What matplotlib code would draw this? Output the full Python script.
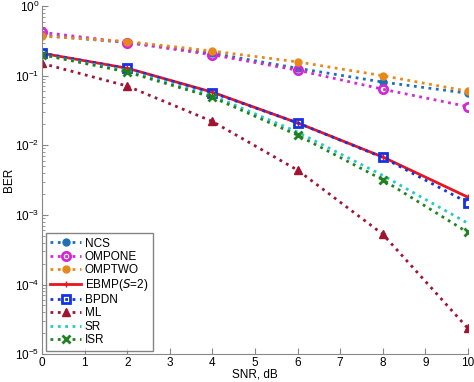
import matplotlib
matplotlib.use("Agg")
import matplotlib.pyplot as plt
import numpy as np

snr = [0, 2, 4, 6, 8, 10]
ber_ncs = [0.38, 0.30, 0.21, 0.128, 0.081, 0.056]
ber_ompone = [0.42, 0.30, 0.20, 0.12, 0.064, 0.036]
ber_omptwo = [0.37, 0.31, 0.226, 0.158, 0.10, 0.060]
ber_ebmp = [0.21, 0.128, 0.058, 0.021, 0.0068, 0.0018]
ber_bpdn = [0.21, 0.127, 0.057, 0.021, 0.0067, 0.0015]
ber_ml = [0.15, 0.071, 0.022, 0.0044, 0.00053, 2.35e-5]
ber_sr = [0.20, 0.118, 0.052, 0.0155, 0.0037, 0.00076]
ber_isr = [0.20, 0.113, 0.049, 0.014, 0.0032, 0.00056]

plt.rcParams['font.family'] = 'Liberation Sans'

fig = plt.figure(figsize=(4.74, 3.82), dpi=100)
ax = fig.add_axes([0.089, 0.073, 0.898, 0.911])

lw = 2
ax.plot(snr, ber_ncs, ':', color='#1f6fb4', lw=lw, marker='o', ms=5, label='NCS')
ax.plot(snr, ber_ompone, ':', color='#d22ad2', lw=lw, marker='o', ms=6, mfc='none', mew=2, label='OMPONE')
ax.plot(snr, ber_omptwo, ':', color='#e8881a', lw=lw, marker='o', ms=5, label='OMPTWO')
ax.plot(snr, ber_ebmp, '-', color='#e8141e', lw=lw, marker='+', ms=5, label='EBMP($S$=2)')
ax.plot(snr, ber_bpdn, ':', color='#1432e6', lw=lw, marker='s', ms=6, mfc='none', mew=2, label='BPDN')
ax.plot(snr, ber_ml, ':', color='#a01432', lw=lw, marker='^', ms=6, label='ML')
ax.plot(snr, ber_sr, ':', color='#28c8c8', lw=lw, label='SR')
ax.plot(snr, ber_isr, ':', color='#1e821e', lw=lw, marker='x', ms=6, mew=2, label='ISR')

ax.set_yscale('log')
ax.set_xlim(0, 10)
ax.set_ylim(1e-5, 1)
ax.set_xticks(range(11))
ax.set_xlabel('SNR, dB', fontsize=8.5, labelpad=0)
ax.set_ylabel('BER', fontsize=8.5, labelpad=0)

for s in ['top', 'right']:
    ax.spines[s].set_visible(False)
for s in ['left', 'bottom']:
    ax.spines[s].set_color('#888888')
ax.tick_params(which='both', direction='in', colors='#888888', labelcolor='black', labelsize=8.5)
ax.tick_params(which='major', length=4, pad=2)
ax.tick_params(which='minor', length=2)

leg = ax.legend(loc='lower left', fontsize=8.5, frameon=True, fancybox=False,
                edgecolor='#666666', handlelength=2.6, labelspacing=0.1,
                borderpad=0.4, handletextpad=0.3, borderaxespad=0.3)

fig.savefig('out.png', dpi=100)
